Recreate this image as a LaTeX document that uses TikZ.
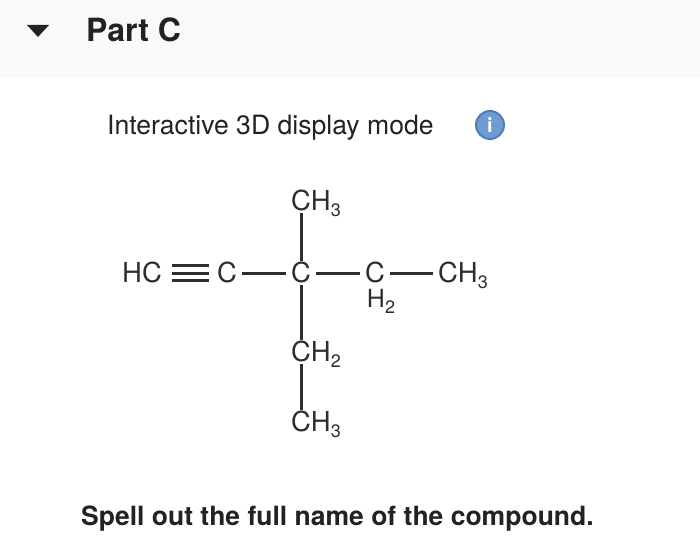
\documentclass[tikz,border=0pt]{standalone}
\usepackage{fontspec}
\setmainfont{TeX Gyre Heros}
\usetikzlibrary{positioning}
\definecolor{inktext}{HTML}{222222}
\definecolor{inkbond}{HTML}{2E2E2E}
\definecolor{bandgrey}{HTML}{F9F9F9}
\definecolor{infoblue}{HTML}{6F9BD3}
\definecolor{infoedge}{HTML}{4F7DB8}
\newcommand{\atomsub}[1]{\raisebox{-6pt}{\fontsize{18}{18}\selectfont #1}}
\tikzset{
    atom/.style={inner xsep=4.5pt,inner ysep=2pt,text height=19pt,text depth=0pt,text=inkbond,font=\fontsize{27.5}{27.5}\selectfont},
    bond/.style={draw=inkbond,line width=3pt},
    caption/.style={inner sep=0pt,anchor=base west,text=inktext}
}
\begin{document}
\begin{tikzpicture}[x=1pt,y=-1pt]
    \useasboundingbox (0,0) rectangle (700,537);
    \fill[white] (0,0) rectangle (700,537);
    \fill[bandgrey] (0,0) rectangle (700,78);

    % header
    \fill[inktext] (27,25) -- (49,25) -- (38,37) -- cycle;
    \node[caption,font=\bfseries\fontsize{32}{32}\selectfont] (part) at (86,42) {Part C};
    \node[caption,font=\fontsize{26.6}{26.6}\selectfont] (mode) at (107,135) {Interactive 3D display mode};
    \node[circle,minimum size=28pt,inner sep=0pt,fill=infoblue,draw=infoedge,line width=2pt,text=white,font=\bfseries\fontsize{20}{20}\selectfont] (info) at (490,125) {i};

    % compound
    \node[atom] (ctop) at (301,201) {C\rlap{H\atomsub{3}}};
    \node[atom,inner xsep=10pt] (hc) at (152,273) {\llap{H}C};
    \node[atom] (calk) at (227,273) {C};
    \node[atom] (cq) at (301,273) {C};
    \node[atom] (cme) at (375,273) {C};
    \node[atom] (cend) at (448,273) {C\rlap{H\atomsub{3}}};
    \node[atom,font=\fontsize{25}{25}\selectfont] (hcme) at (376,298) {H\rlap{\atomsub{2}}};
    \node[atom] (cethyl) at (301,352) {C\rlap{H\atomsub{2}}};
    \node[atom] (cbot) at (301,422) {C\rlap{H\atomsub{3}}};

    \draw[bond] ([yshift=7.5pt]hc.east) -- ([xshift=-3pt,yshift=7.5pt]calk.west);
    \draw[bond] (hc.east) -- ([xshift=-3pt]calk.west);
    \draw[bond] ([yshift=-7.5pt]hc.east) -- ([xshift=-3pt,yshift=-7.5pt]calk.west);
    \draw[bond] (calk) -- (cq);
    \draw[bond] (cq) -- (cme);
    \draw[bond] (cme) -- (cend);
    \draw[bond] (ctop) -- (cq);
    \draw[bond] (cq) -- (cethyl);
    \draw[bond] (cethyl) -- (cbot);

    \node[caption,font=\bfseries\fontsize{26.5}{26.5}\selectfont] (spell) at (81,525) {Spell out the full name of the compound.};
\end{tikzpicture}
\end{document}
